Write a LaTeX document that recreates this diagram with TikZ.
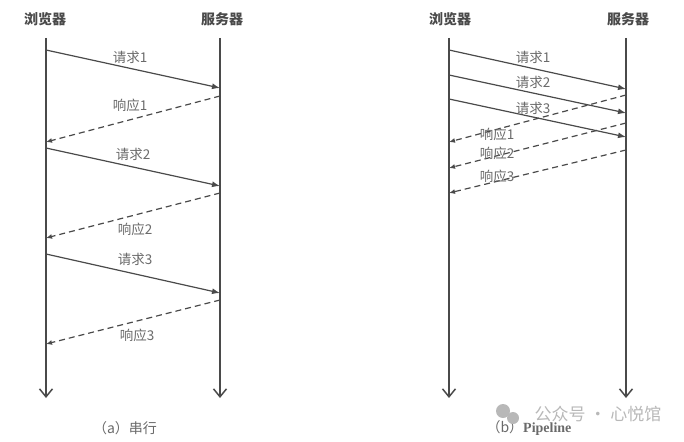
\documentclass[tikz,border=0pt]{standalone}
\usepackage{fontspec}
\setmainfont{Liberation Serif}
\newfontfamily\cjk{Noto Sans CJK SC}
\usetikzlibrary{arrows.meta}
\definecolor{gray700}{HTML}{4A4A4A}
\definecolor{gray600}{HTML}{6A6A6A}
\definecolor{gray300}{HTML}{B8B8B8}
\tikzstyle{titulo}=[font=\cjk\bfseries\fontsize{14}{14}\selectfont, text=gray700, inner sep=1pt]
\tikzstyle{rotulo}=[font=\cjk\fontsize{13.5}{14}\selectfont, text=gray600, inner sep=1pt]
\tikzstyle{legenda}=[font=\fontsize{14}{14}\selectfont, text=gray600, inner sep=1pt]
\tikzstyle{vida}=[draw=gray700, line width=1.5pt, -{Straight Barb[length=8pt,width=13pt]}]
\tikzstyle{pedido}=[draw=gray700, line width=1.2pt, -{Latex[length=8pt,width=6pt]}]
\tikzstyle{resposta}=[draw=gray700, line width=1.2pt, dash pattern=on 6pt off 4pt, -{Latex[length=6pt,width=5pt]}]

\begin{document}
\begin{tikzpicture}[x=1pt, y=-1pt]
			\useasboundingbox (0,0) rectangle (684,441);
			% (a) serial
			\node[titulo] (na) at (45,19) {浏览器};
			\node[titulo] (sa) at (222,19) {服务器};
			\coordinate (na0) at (46,38);
			\coordinate (na9) at (46,398);
			\coordinate (sa0) at (220,38);
			\coordinate (sa9) at (220,398);
			\path[vida] (na0)--(na9);
			\path[vida] (sa0)--(sa9);
			\coordinate (na1) at (46,50);   \coordinate (sa1) at (220,88);
			\coordinate (sa2) at (220,96);  \coordinate (na2) at (46,142);
			\coordinate (na3) at (46,148);  \coordinate (sa3) at (220,186);
			\coordinate (sa4) at (220,193); \coordinate (na4) at (46,238);
			\coordinate (na5) at (46,254);  \coordinate (sa5) at (220,293);
			\coordinate (sa6) at (220,300); \coordinate (na6) at (46,344);
			\path[pedido] (na1)--(sa1);
			\path[resposta] (sa2)--(na2);
			\path[pedido] (na3)--(sa3);
			\path[resposta] (sa4)--(na4);
			\path[pedido] (na5)--(sa5);
			\path[resposta] (sa6)--(na6);
			\node[rotulo] (pa1) at (130,57) {请求1};
			\node[rotulo] (ra1) at (130,105) {响应1};
			\node[rotulo] (pa2) at (133,154) {请求2};
			\node[rotulo] (ra2) at (135,229) {响应2};
			\node[rotulo] (pa3) at (135,259) {请求3};
			\node[rotulo] (ra3) at (137,335) {响应3};
			\node[legenda] (la) at (125,428) {\cjk （a）串行};
			% (b) pipeline
			\node[titulo] (nb) at (450,19) {浏览器};
			\node[titulo] (sb) at (628,19) {服务器};
			\coordinate (nb0) at (449,38);
			\coordinate (nb9) at (449,398);
			\coordinate (sb0) at (626,38);
			\coordinate (sb9) at (626,398);
			\path[vida] (nb0)--(nb9);
			\path[vida] (sb0)--(sb9);
			\coordinate (nb1) at (449,50);  \coordinate (sb1) at (626,89);
			\coordinate (nb2) at (449,75);  \coordinate (sb2) at (626,113);
			\coordinate (nb3) at (449,99);  \coordinate (sb3) at (626,137);
			\coordinate (sb4) at (626,95);  \coordinate (nb4) at (449,142);
			\coordinate (sb5) at (626,123); \coordinate (nb5) at (449,168);
			\coordinate (sb6) at (626,150); \coordinate (nb6) at (449,193);
			\path[pedido] (nb1)--(sb1);
			\path[pedido] (nb2)--(sb2);
			\path[pedido] (nb3)--(sb3);
			\path[resposta] (sb4)--(nb4);
			\path[resposta] (sb5)--(nb5);
			\path[resposta] (sb6)--(nb6);
			\node[rotulo] (pb1) at (533,57) {请求1};
			\node[rotulo] (pb2) at (533,82) {请求2};
			\node[rotulo] (pb3) at (533,108) {请求3};
			\node[rotulo] (rb1) at (497,134) {响应1};
			\node[rotulo] (rb2) at (497,153) {响应2};
			\node[rotulo] (rb3) at (497,176) {响应3};
			\node[legenda] (lb) at (529,428) {{\cjk （b）}\textbf{Pipeline}};
			% watermark
			\fill[gray300] (503,411) circle (7);
			\fill[gray300] (513,418) circle (6);
			\node[font=\cjk\fontsize{17}{17}\selectfont, text=gray300, inner sep=0pt] (wm) at (598,414) {公众号 · 心悦馆};
		\end{tikzpicture}
\end{document}
